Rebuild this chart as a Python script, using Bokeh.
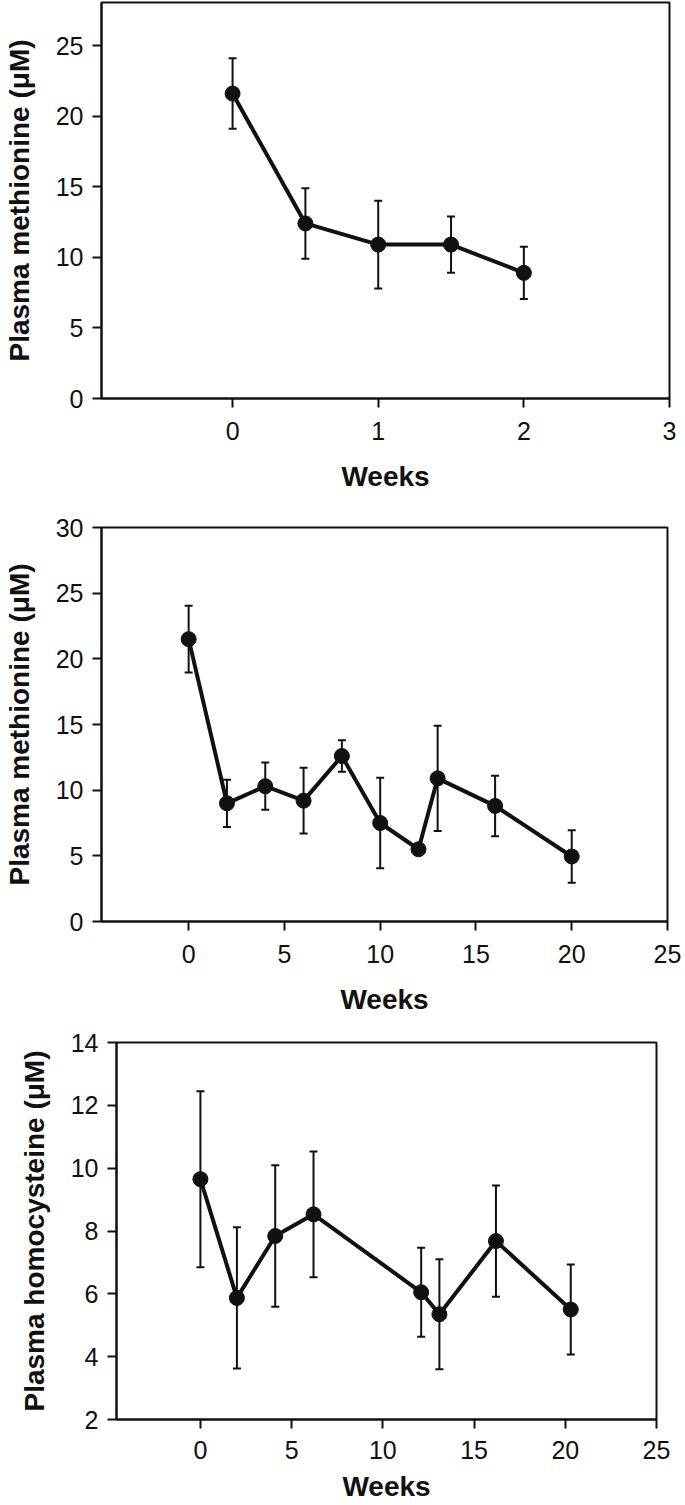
from bokeh.plotting import figure
from bokeh.models import ColumnDataSource, Whisker, TeeHead, FixedTicker, Range1d
from bokeh.embed import file_html
from bokeh.resources import INLINE

# top panel: methionine, first two weeks
weeks_a = [0, 0.5, 1, 1.5, 2]
met_a = [21.6, 12.4, 10.9, 10.9, 8.9]
met_a_err = [2.5, 2.5, 3.1, 2.0, 1.85]

# middle panel: methionine over 20 weeks
weeks_b = [0, 2, 4, 6, 8, 10, 12, 13, 16, 20]
met_b = [21.5, 9.0, 10.3, 9.2, 12.6, 7.5, 5.5, 10.9, 8.8, 4.95]
met_b_err = [2.55, 1.8, 1.8, 2.5, 1.2, 3.45, 0.3, 4.0, 2.3, 2.0]

# bottom panel: homocysteine
weeks_c = [0, 2, 4.1, 6.2, 12.1, 13.1, 16.2, 20.3]
hcy_c = [9.65, 5.87, 7.84, 8.53, 6.05, 5.35, 7.68, 5.5]
hcy_c_err = [2.8, 2.25, 2.25, 2.0, 1.42, 1.75, 1.77, 1.43]

ticks_a = [0, 1, 2, 3]
ticks_b = [0, 5, 10, 15, 20, 25]
yticks_a = [0, 5, 10, 15, 20, 25]
yticks_b = [0, 5, 10, 15, 20, 25, 30]
yticks_c = [2, 4, 6, 8, 10, 12, 14]

INK = "#111111"
FONT = "Liberation Sans"


def panel(x, y, err, xr, yr, xticks, yticks, ylabel, height, left, right, top, bottom,
          xlab_stand, xtitle_stand):
    src = ColumnDataSource(dict(
        x=x, y=y,
        lo=[a - b for a, b in zip(y, err)],
        hi=[a + b for a, b in zip(y, err)],
    ))
    p = figure(width=685, height=height, x_range=Range1d(*xr), y_range=Range1d(*yr),
               output_backend="svg", toolbar_location=None,
               min_border_left=left, min_border_right=right,
               min_border_top=top, min_border_bottom=bottom)
    p.grid.visible = False
    p.outline_line_color = INK
    p.outline_line_width = 2
    p.outline_line_alpha = 1

    for ax in (p.xaxis, p.yaxis):
        ax.axis_line_width = 2
        ax.axis_line_color = INK
        ax.major_tick_line_width = 2
        ax.major_tick_line_color = INK
        ax.major_tick_out = 9
        ax.major_tick_in = 0
        ax.minor_tick_out = 0
        ax.minor_tick_in = 0
        ax.major_label_text_font = FONT
        ax.major_label_text_font_size = "25px"
        ax.major_label_text_color = INK
        ax.axis_label_text_font = FONT
        ax.axis_label_text_font_size = "28px"
        ax.axis_label_text_font_style = "bold"
        ax.axis_label_text_color = INK

    p.xaxis.ticker = FixedTicker(ticks=xticks)
    p.yaxis.ticker = FixedTicker(ticks=yticks)
    p.xaxis.axis_label = "Weeks"
    p.yaxis.axis_label = ylabel
    p.xaxis.major_label_standoff = xlab_stand
    p.yaxis.major_label_standoff = 9
    p.xaxis.axis_label_standoff = xtitle_stand
    p.yaxis.axis_label_standoff = 18

    whisk = Whisker(source=src, base="x", upper="hi", lower="lo",
                    line_color=INK, line_width=2,
                    upper_head=TeeHead(size=8, line_color=INK, line_width=2),
                    lower_head=TeeHead(size=8, line_color=INK, line_width=2))
    p.add_layout(whisk)
    p.line("x", "y", source=src, line_color=INK, line_width=4)
    p.scatter("x", "y", source=src, size=15, fill_color=INK, line_color=INK)
    return p


p1 = panel(weeks_a, met_a, met_a_err, (-0.9, 3), (0, 28.05), ticks_a, yticks_a,
           "Plasma methionine (\u03bcM)", 500, 101, 16, 2, 102, 14, 18)
p2 = panel(weeks_b, met_b, met_b_err, (-4.55, 25), (0, 30), ticks_b, yticks_b,
           "Plasma methionine (\u03bcM)", 522, 97, 18, 27, 101, 14, 18)
p3 = panel(weeks_c, hcy_c, hcy_c_err, (-4.6, 25), (2, 14), ticks_b, yticks_c,
           "Plasma homocysteine (\u03bcM)", 483, 116, 29, 20, 86, 12, 9)

# separate roots so the three frames are not aligned to each other
open("out.html", "w").write(file_html([p1, p2, p3], INLINE))
